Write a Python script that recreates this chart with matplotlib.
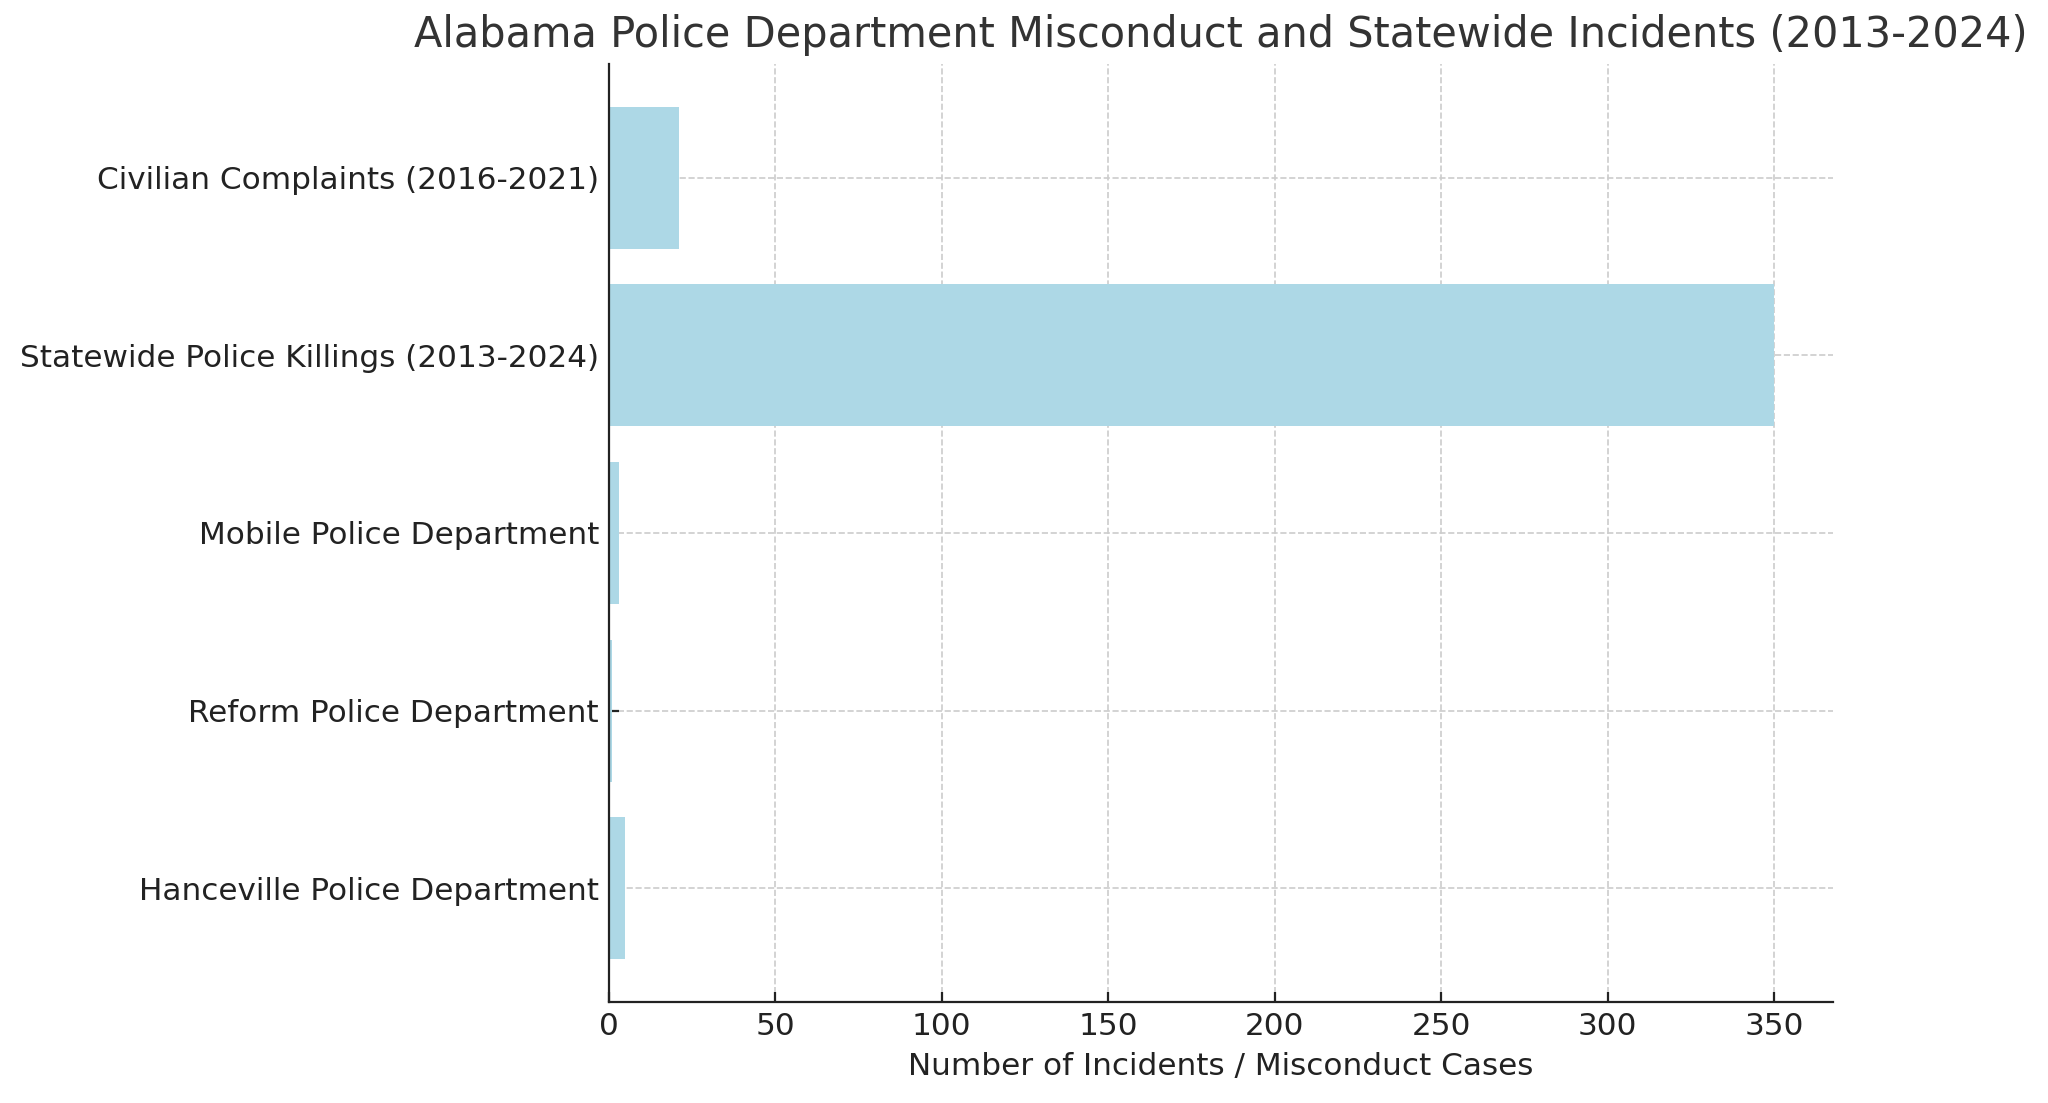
import matplotlib.pyplot as plt

categories = [
    "Hanceville Police Department",
    "Reform Police Department",
    "Mobile Police Department",
    "Statewide Police Killings (2013-2024)",
    "Civilian Complaints (2016-2021)",
]
values = [5, 1, 3, 350, 21]

plt.rcParams["font.family"] = ["DejaVu Sans"]

fig = plt.figure(figsize=(10.24, 5.515), dpi=200)
ax = fig.add_axes([0.2972, 0.0916, 0.5976, 0.8505])
ax.barh(categories, values, color="lightblue", height=0.8)
ax.set_title("Alabama Police Department Misconduct and Statewide Incidents (2013-2024)",
             fontsize=14.95, color="#333333")
ax.set_xlabel("Number of Incidents / Misconduct Cases", fontsize=11.2, color="#222222")
ax.tick_params(axis="both", labelsize=11.2, colors="#222222", direction="in")
ax.grid(True, linestyle="--", linewidth=0.6, color="#cccccc")
ax.set_axisbelow(True)
ax.spines["top"].set_visible(False)
ax.spines["right"].set_visible(False)
ax.spines["left"].set_color("#222222")
ax.spines["bottom"].set_color("#222222")
fig.savefig("out.png", dpi=200)
